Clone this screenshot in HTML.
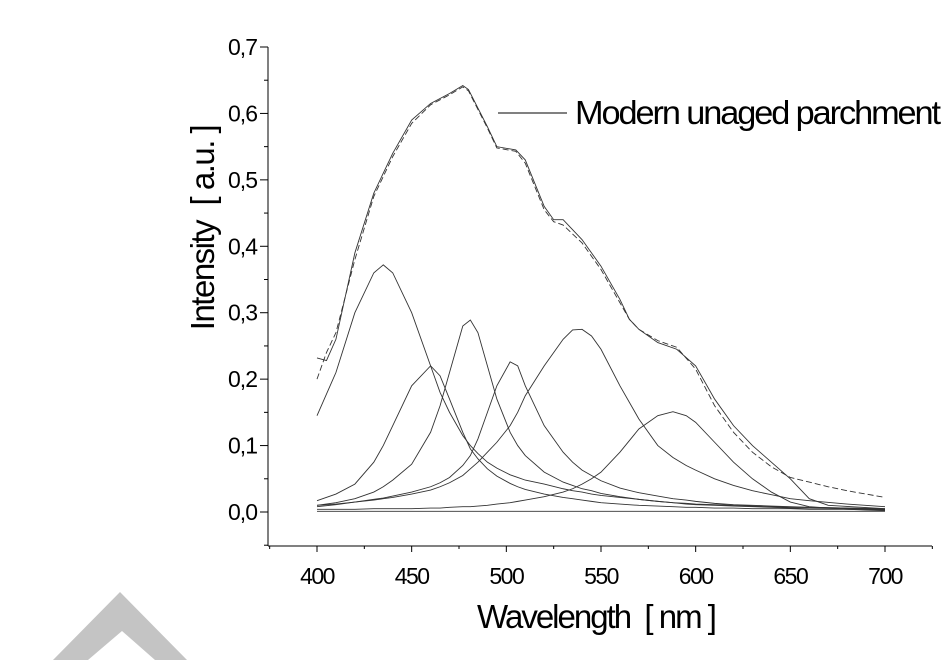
<!DOCTYPE html>
<html><head><meta charset="utf-8"><style>
html,body{margin:0;padding:0;background:#fff;}
svg{display:block;font-family:"Liberation Sans",sans-serif;}
</style></head><body>
<svg id="chart" width="941" height="660" viewBox="0 0 941 660" xmlns="http://www.w3.org/2000/svg">
<polygon points="53,660 120,592 187,660 155,660 122,631 88,660" fill="#c4c4c4"/>
<g id="axes"></g>
<g id="series"></g>
<text transform="translate(214,228) rotate(-90)" text-anchor="middle" font-size="33" letter-spacing="-1.5" xml:space="preserve">Intensity  [ a.u. ]</text>
<text x="596" y="628" text-anchor="middle" font-size="33" letter-spacing="-2" xml:space="preserve">Wavelength  [ nm ]</text>
<g>
<line x1="498" y1="113" x2="567" y2="113" stroke="#000" stroke-width="1"/>
<text x="575" y="124" font-size="33" letter-spacing="-2" textLength="364" lengthAdjust="spacingAndGlyphs">Modern unaged parchment</text>
</g>
</svg>
<script>
const xTicks=[400,450,500,550,600,650,700];
const yTicks=[0,0.1,0.2,0.3,0.4,0.5,0.6,0.7];
const yTickLabels=["0,0","0,1","0,2","0,3","0,4","0,5","0,6","0,7"];
const totalX=[400,405,410,420,430,440,450,460,470,477,480,490,495,505,510,520,525,530,540,550,560,565,570,580,590,600,610,620,630,640,650,660,670,700];
const totalY=[0.232,0.228,0.26,0.39,0.48,0.54,0.59,0.615,0.63,0.642,0.636,0.58,0.55,0.545,0.53,0.46,0.44,0.44,0.41,0.37,0.32,0.29,0.275,0.255,0.245,0.22,0.17,0.13,0.10,0.075,0.05,0.02,0.01,0.005];
const fitX=[400,405,410,420,430,440,450,460,470,477,480,490,495,505,510,520,525,530,540,550,560,565,570,580,590,600,610,620,630,640,650,660,670,680,690,700];
const fitY=[0.2,0.24,0.27,0.38,0.475,0.535,0.585,0.613,0.628,0.64,0.634,0.578,0.548,0.543,0.525,0.455,0.437,0.432,0.405,0.365,0.315,0.29,0.275,0.258,0.248,0.215,0.16,0.12,0.09,0.068,0.052,0.045,0.038,0.032,0.027,0.022];
const compX=[400,410,420,430,435,440,450,460,465,470,477,481,485,490,495,502,506,510,520,530,535,540,545,550,560,570,580,588,595,600,610,620,630,640,650,660,680,700];
const c1=[0.145,0.21,0.30,0.36,0.372,0.36,0.30,0.22,0.18,0.15,0.115,0.10,0.088,0.075,0.066,0.056,0.052,0.048,0.042,0.035,0.032,0.03,0.027,0.025,0.022,0.019,0.016,0.014,0.013,0.012,0.011,0.01,0.009,0.008,0.007,0.007,0.006,0.005];
const c2=[0.017,0.027,0.042,0.075,0.1,0.13,0.19,0.22,0.205,0.17,0.12,0.095,0.08,0.065,0.054,0.043,0.038,0.034,0.027,0.022,0.02,0.018,0.016,0.014,0.012,0.01,0.009,0.008,0.007,0.007,0.006,0.006,0.005,0.005,0.005,0.004,0.004,0.003];
const c3=[0.01,0.014,0.02,0.03,0.038,0.048,0.072,0.12,0.16,0.21,0.28,0.289,0.27,0.22,0.17,0.12,0.1,0.085,0.06,0.045,0.04,0.035,0.032,0.028,0.023,0.019,0.016,0.014,0.012,0.011,0.01,0.009,0.008,0.007,0.006,0.006,0.005,0.004];
const c4=[0.008,0.011,0.015,0.019,0.021,0.024,0.03,0.038,0.044,0.052,0.07,0.085,0.11,0.15,0.19,0.226,0.22,0.19,0.13,0.09,0.075,0.063,0.055,0.047,0.036,0.029,0.024,0.02,0.018,0.016,0.013,0.011,0.01,0.009,0.008,0.007,0.006,0.004];
const c5=[0.01,0.012,0.015,0.018,0.02,0.022,0.027,0.033,0.038,0.044,0.055,0.065,0.075,0.09,0.105,0.13,0.15,0.175,0.22,0.26,0.274,0.275,0.265,0.245,0.19,0.14,0.1,0.082,0.07,0.063,0.05,0.04,0.032,0.026,0.02,0.017,0.012,0.008];
const c6=[0.004,0.004,0.004,0.005,0.005,0.005,0.005,0.006,0.006,0.007,0.008,0.008,0.009,0.01,0.012,0.014,0.016,0.018,0.023,0.03,0.035,0.042,0.05,0.06,0.09,0.125,0.145,0.151,0.145,0.135,0.105,0.075,0.05,0.03,0.015,0.008,0.004,0.002];
const baseX=[400,700];
const baseY=[0.001,0.001];
const NS="http://www.w3.org/2000/svg";
const X=v=>317+(v-400)*(885-317)/300;
const Y=v=>512-v*(512-47)/0.7;
const axes=document.getElementById('axes');
const series=document.getElementById('series');
function mk(tag,attrs,parent){const e=document.createElementNS(NS,tag);for(const k in attrs)e.setAttribute(k,attrs[k]);parent.appendChild(e);return e;}
let el=mk('line',{x1:268,y1:47,x2:268,y2:546,stroke:'#000','stroke-width':1},axes);


el=mk('line',{x1:268,y1:546,x2:932,y2:546,stroke:'#000','stroke-width':1},axes);


for(let v=-0.05;v<=0.7001;v+=0.05){const major=Math.abs(Math.round(v*10)-v*10)<1e-6;mk('line',{x1:major?260:264,y1:Y(v),x2:268,y2:Y(v),stroke:'#000','stroke-width':1},axes);}
yTicks.forEach((v,i)=>{const t=mk('text',{x:257,y:Y(v)+8,'text-anchor':'end','font-size':23,'letter-spacing':-1},axes);t.textContent=yTickLabels[i];

});
for(let v=375;v<=725;v+=25){const major=v%50===0;mk('line',{x1:X(v),y1:546,x2:X(v),y2:major?552:549,stroke:'#000','stroke-width':1},axes);}
xTicks.forEach(v=>{const t=mk('text',{x:X(v),y:584,'text-anchor':'middle','font-size':23,'letter-spacing':-1.5},axes);t.textContent=String(v);

});
function line(xs,ys,name,dash){const p=mk('polyline',{points:xs.map((x,i)=>X(x)+','+Y(ys[i])).join(' '),fill:'none',stroke:'#333','stroke-width':0.9},series);if(dash)p.setAttribute('stroke-dasharray',dash);

}
line(totalX,totalY,'measured-spectrum-line');
line(fitX,fitY,'fit-sum-line','6,3');
line(compX,c1,'component-435');
line(compX,c2,'component-460');
line(compX,c3,'component-481');
line(compX,c4,'component-503');
line(compX,c5,'component-535');
line(compX,c6,'component-588');
line(baseX,baseY,'baseline');
</script>
</body></html>
